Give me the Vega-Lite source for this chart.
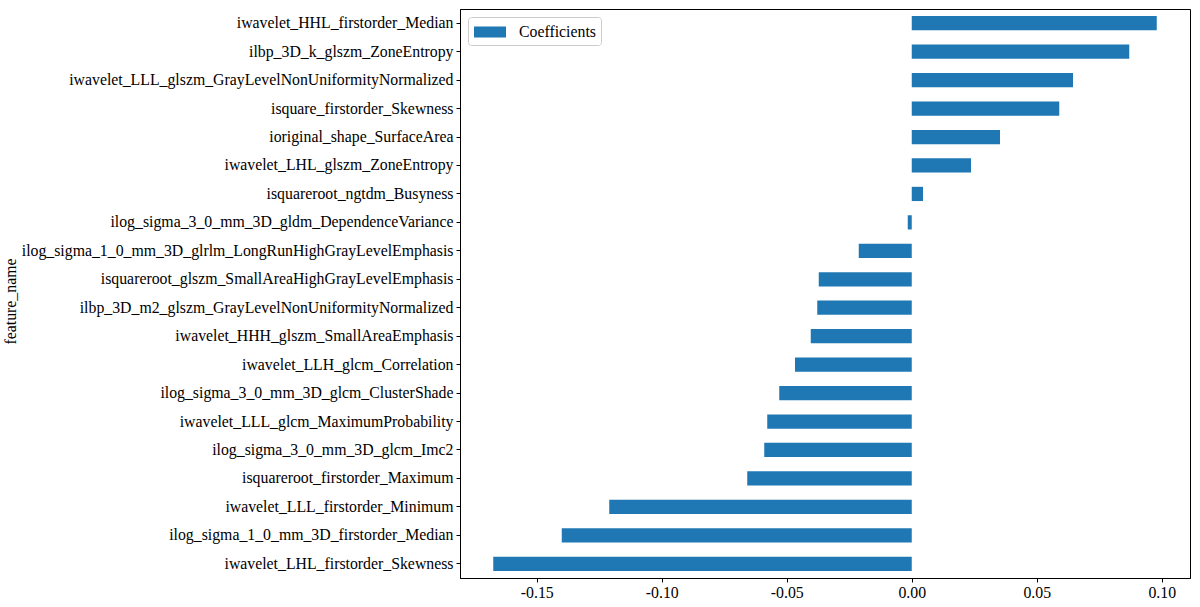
{
  "$schema": "https://vega.github.io/schema/vega-lite/v6.json",
  "autosize": "none",
  "padding": {"left": 460, "top": 9, "right": 10, "bottom": 29},
  "width": 730,
  "height": 569,
  "background": "white",
  "data": {
    "values": [
      {"feature_name": "iwavelet_HHL_firstorder_Median", "coef": 0.098},
      {"feature_name": "ilbp_3D_k_glszm_ZoneEntropy", "coef": 0.087},
      {"feature_name": "iwavelet_LLL_glszm_GrayLevelNonUniformityNormalized", "coef": 0.0645},
      {"feature_name": "isquare_firstorder_Skewness", "coef": 0.059},
      {"feature_name": "ioriginal_shape_SurfaceArea", "coef": 0.0353},
      {"feature_name": "iwavelet_LHL_glszm_ZoneEntropy", "coef": 0.0237},
      {"feature_name": "isquareroot_ngtdm_Busyness", "coef": 0.0045},
      {"feature_name": "ilog_sigma_3_0_mm_3D_gldm_DependenceVariance", "coef": -0.0016},
      {"feature_name": "ilog_sigma_1_0_mm_3D_glrlm_LongRunHighGrayLevelEmphasis", "coef": -0.0212},
      {"feature_name": "isquareroot_glszm_SmallAreaHighGrayLevelEmphasis", "coef": -0.0372},
      {"feature_name": "ilbp_3D_m2_glszm_GrayLevelNonUniformityNormalized", "coef": -0.0378},
      {"feature_name": "iwavelet_HHH_glszm_SmallAreaEmphasis", "coef": -0.0404},
      {"feature_name": "iwavelet_LLH_glcm_Correlation", "coef": -0.0467},
      {"feature_name": "ilog_sigma_3_0_mm_3D_glcm_ClusterShade", "coef": -0.053},
      {"feature_name": "iwavelet_LLL_glcm_MaximumProbability", "coef": -0.0578},
      {"feature_name": "ilog_sigma_3_0_mm_3D_glcm_Imc2", "coef": -0.059},
      {"feature_name": "isquareroot_firstorder_Maximum", "coef": -0.0658},
      {"feature_name": "iwavelet_LLL_firstorder_Minimum", "coef": -0.121},
      {"feature_name": "ilog_sigma_1_0_mm_3D_firstorder_Median", "coef": -0.14},
      {"feature_name": "iwavelet_LHL_firstorder_Skewness", "coef": -0.1674}
    ]
  },
  "mark": {"type": "bar"},
  "encoding": {
    "y": {
      "field": "feature_name",
      "type": "nominal",
      "sort": null,
      "scale": {"paddingInner": 0.5, "paddingOuter": 0.25},
      "axis": {
        "title": "feature_name",
        "titleX": -442,
        "titleY": 292,
        "titleFontWeight": "normal",
        "titleFontSize": 15.8,
        "tickSize": 4,
        "labelPadding": 3,
        "labelLimit": 0
      }
    },
    "x": {
      "field": "coef",
      "type": "quantitative",
      "scale": {"domain": [-0.1807, 0.1113], "nice": false, "zero": false},
      "axis": {
        "title": null,
        "values": [-0.15, -0.1, -0.05, 0, 0.05, 0.1],
        "labelExpr": "(datum.value < 0 ? '-' : '') + format(abs(datum.value), '.2f')",
        "tickSize": 4,
        "labelPadding": 3,
        "grid": false
      }
    },
    "color": {
      "datum": "Coefficients",
      "type": "nominal",
      "scale": {"range": ["#1f77b4"]},
      "legend": {
        "title": null,
        "orient": "none",
        "legendX": 8,
        "legendY": 8,
        "symbolType": "M-1.6,-0.55H1.6V0.55H-1.6Z",
        "symbolSize": 400,
        "symbolStrokeWidth": 0,
        "symbolOffset": 7,
        "labelOffset": 19,
        "padding": 5,
        "strokeColor": "#cccccc",
        "fillColor": "white",
        "cornerRadius": 3,
        "labelFontSize": 15.8
      }
    }
  },
  "config": {
    "font": "Liberation Serif",
    "view": {"stroke": "black", "strokeWidth": 1},
    "axis": {
      "grid": false,
      "domainColor": "black",
      "tickColor": "black",
      "labelColor": "black",
      "titleColor": "black",
      "labelFont": "Liberation Serif",
      "titleFont": "Liberation Serif",
      "labelFontSize": 15.8,
      "tickWidth": 1
    },
    "legend": {"labelFont": "Liberation Serif", "labelColor": "black"}
  }
}
